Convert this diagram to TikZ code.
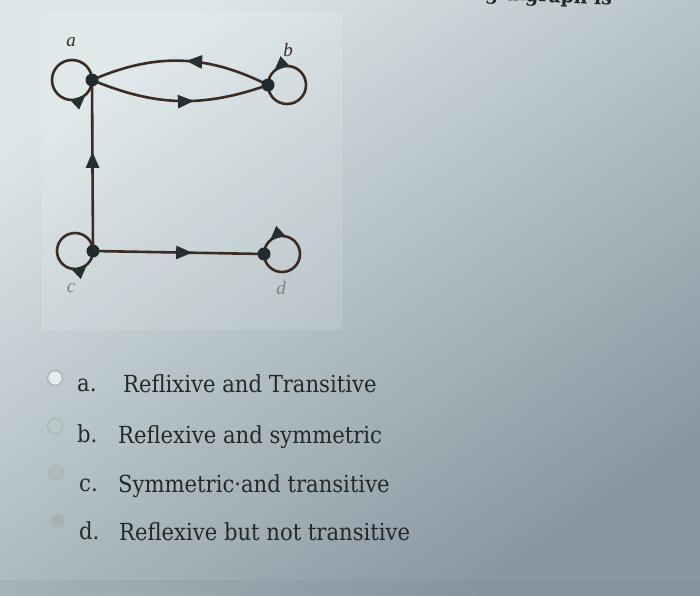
\documentclass[tikz,border=0pt]{standalone}
\usepackage{fontspec}
\setmainfont{DejaVu Serif Condensed}
\newfontfamily\labelfont{Liberation Serif}
\usetikzlibrary{arrows.meta,decorations.markings}

\definecolor{edgecol}{HTML}{3A2C22}
\definecolor{dotcol}{HTML}{1F2B2C}
\definecolor{tipcol}{HTML}{25302F}
\definecolor{bgA}{HTML}{DCE6E8}
\definecolor{bgB}{HTML}{BCC9CC}
\definecolor{bgC}{HTML}{8797A0}
\definecolor{txtcol}{HTML}{262828}
\definecolor{radiocol}{HTML}{AEB7B9}

\tikzset{
  vdot/.style={circle, fill=dotcol, inner sep=0pt, minimum size=13pt},
  edgeline/.style={draw=edgecol, line width=2.6pt},
  arrowat/.style={postaction={decorate}, decoration={markings,
      mark=at position #1 with {\arrow[tipcol]{Triangle[length=16pt,width=13pt]}}}},
  looparrowat/.style={postaction={decorate}, decoration={markings,
      mark=at position #1 with {\arrow[tipcol]{Triangle[length=15pt,width=12pt]}}}},
  vlabel/.style={font=\labelfont\itshape\fontsize{19}{19}\selectfont, inner sep=0pt},
  optlabel/.style={font=\fontsize{23.5}{23.5}\selectfont, text=txtcol, anchor=base west, inner sep=0pt},
  radio/.style={circle, draw=radiocol, line width=1.6pt, minimum size=15pt, inner sep=0pt},
}

\begin{document}
\begin{tikzpicture}[x=1pt,y=1pt]
  \useasboundingbox (0,0) rectangle (700,-595);
  \clip (0,0) rectangle (700,-595);
  % background
  \shade[top color=bgA, middle color=bgB, bottom color=bgC, shading angle=35]
    (0,0) rectangle (700,-595);
  \fill[white, opacity=0.12] (42,-12) rectangle (342,-330);
  \fill[bgC!85!black, opacity=0.12] (0,-580) rectangle (700,-595);

  % cut-off question text at top
  \node[font=\bfseries\fontsize{21}{21}\selectfont, text=txtcol, anchor=base east,
        inner sep=0pt, rotate=-2.5] (question) at (612,-5) {the following digraph is};

  % vertices
  \coordinate (a) at (92,-80);
  \coordinate (b) at (268,-85);
  \coordinate (c) at (93,-251);
  \coordinate (d) at (264,-254);

  % edges between vertices
  \draw[edgeline, arrowat=0.47] (b) to[bend right=25] (a);
  \draw[edgeline, arrowat=0.58] (a) to[bend right=21] (b);
  \draw[edgeline, arrowat=0.58] (c) -- (a);
  \draw[edgeline, arrowat=0.58] (c) -- (d);

  % self loops
  \draw[edgeline, looparrowat=0.87] (a) arc[start angle=0, end angle=360, radius=20pt];
  \draw[edgeline, looparrowat=0.87] (b) arc[start angle=180, end angle=540, radius=19pt];
  \draw[edgeline, looparrowat=0.87] (c) arc[start angle=0, end angle=360, radius=18pt];
  \draw[edgeline, looparrowat=0.87] (d) arc[start angle=180, end angle=540, radius=18pt];

  % vertex dots
  \node[vdot] (adot) at (a) {};
  \node[vdot] (bdot) at (b) {};
  \node[vdot] (cdot) at (c) {};
  \node[vdot] (ddot) at (d) {};

  % vertex labels
  \node[vlabel, text=edgecol] (la) at (71,-42) {a};
  \node[vlabel, text=edgecol] (lb) at (288,-50) {b};
  \node[vlabel, text=gray] (lc) at (71,-288) {c};
  \node[vlabel, text=gray] (ld) at (281,-288) {d};

  % options
  \node[radio, fill=bgA!70!white] (ra) at (55,-378) {};
  \node[radio, fill=bgB] (rb) at (55,-426) {};
  \node[radio, fill=radiocol!85!bgB] (rc) at (56,-472) {};
  \node[radio, fill=radiocol!85!bgC] (rd) at (58,-521) {};

  \node[optlabel] (oa) at (77,-391) {a.};
  \node[optlabel] (ta) at (123,-392) {Reflixive and Transitive};
  \node[optlabel] (ob) at (77,-442) {b.};
  \node[optlabel] (tb) at (118,-443) {Reflexive and symmetric};
  \node[optlabel] (oc) at (79,-491) {c.};
  \node[optlabel] (tc) at (118,-492) {Symmetric·and transitive};
  \node[optlabel] (od) at (79,-539) {d.};
  \node[optlabel] (td) at (119,-540) {Reflexive but not transitive};
\end{tikzpicture}
\end{document}
